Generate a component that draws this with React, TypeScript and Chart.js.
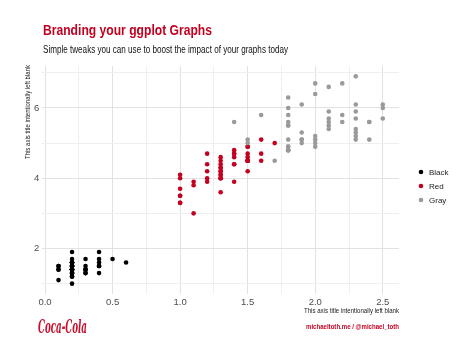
import { useEffect, useRef } from "react";
import { Chart, registerables } from "chart.js";

Chart.register(...registerables);

// Iris petal data: x = petal width, y = petal length
const seriesLabels = ["Black", "Red", "Gray"];
const seriesColors = ["#000000", "#c40020", "#9a9a9a"];

const blackX = [0.2, 0.2, 0.2, 0.2, 0.2, 0.4, 0.3, 0.2, 0.2, 0.1, 0.2, 0.2, 0.1, 0.1, 0.2, 0.4, 0.4, 0.3, 0.3, 0.3, 0.2, 0.4, 0.2, 0.5, 0.2, 0.2, 0.4, 0.2, 0.2, 0.2, 0.2, 0.4, 0.1, 0.2, 0.2, 0.2, 0.2, 0.1, 0.2, 0.2, 0.3, 0.3, 0.2, 0.6, 0.4, 0.3, 0.2, 0.2, 0.2, 0.2];
const blackY = [1.4, 1.4, 1.3, 1.5, 1.4, 1.7, 1.4, 1.5, 1.4, 1.5, 1.5, 1.6, 1.4, 1.1, 1.2, 1.5, 1.3, 1.4, 1.7, 1.5, 1.7, 1.5, 1.0, 1.7, 1.9, 1.6, 1.6, 1.5, 1.4, 1.6, 1.6, 1.5, 1.5, 1.4, 1.5, 1.2, 1.3, 1.4, 1.3, 1.5, 1.3, 1.3, 1.3, 1.6, 1.9, 1.4, 1.6, 1.4, 1.5, 1.4];

const redX = [1.4, 1.5, 1.5, 1.3, 1.5, 1.3, 1.6, 1.0, 1.3, 1.4, 1.0, 1.5, 1.0, 1.4, 1.3, 1.4, 1.5, 1.0, 1.5, 1.1, 1.8, 1.3, 1.5, 1.2, 1.3, 1.4, 1.4, 1.7, 1.5, 1.0, 1.1, 1.0, 1.2, 1.6, 1.5, 1.6, 1.5, 1.3, 1.3, 1.3, 1.2, 1.4, 1.2, 1.0, 1.3, 1.2, 1.3, 1.3, 1.1, 1.3];
const redY = [4.7, 4.5, 4.9, 4.0, 4.6, 4.5, 4.7, 3.3, 4.6, 3.9, 3.5, 4.2, 4.0, 4.7, 3.6, 4.4, 4.5, 4.1, 4.5, 3.9, 4.8, 4.0, 4.9, 4.7, 4.3, 4.4, 4.8, 5.0, 4.5, 3.5, 3.8, 3.7, 3.9, 5.1, 4.5, 4.5, 4.7, 4.4, 4.1, 4.0, 4.4, 4.6, 4.0, 3.3, 4.2, 4.2, 4.2, 4.3, 3.0, 4.1];

const grayX = [2.5, 1.9, 2.1, 1.8, 2.2, 2.1, 1.7, 1.8, 1.8, 2.5, 2.0, 1.9, 2.1, 2.0, 2.4, 2.3, 1.8, 2.2, 2.3, 1.5, 2.3, 2.0, 2.0, 1.8, 2.1, 1.8, 1.8, 1.8, 2.1, 1.6, 1.9, 2.0, 2.2, 1.5, 1.4, 2.3, 2.4, 1.8, 1.8, 2.1, 2.4, 2.3, 1.9, 2.3, 2.5, 2.3, 1.9, 2.0, 2.3, 1.8];
const grayY = [6.0, 5.1, 5.9, 5.6, 5.8, 6.6, 4.5, 6.3, 5.8, 6.1, 5.1, 5.3, 5.5, 5.0, 5.1, 5.3, 5.5, 6.7, 6.9, 5.0, 5.7, 4.9, 6.7, 4.9, 5.7, 6.0, 4.8, 4.9, 5.6, 5.8, 6.1, 6.4, 5.6, 5.1, 5.6, 6.1, 5.6, 5.5, 4.8, 5.4, 5.6, 5.1, 5.1, 5.9, 5.7, 5.2, 5.0, 5.2, 5.4, 5.1];

const xLabelTicks = [0, 0.5, 1, 1.5, 2, 2.5];
const yLabelTicks = [2, 4, 6];

const TITLE = "Branding your ggplot Graphs";
const SUBTITLE = "Simple tweaks you can use to boost the impact of your graphs today";
const AXIS_TITLE = "This axis title intentionally left blank";
const CAPTION = "michaeltoth.me / @michael_toth";
const LOGO = "Coca-Cola";

const FONT = "'Liberation Sans Narrow', 'Liberation Sans', Arial, sans-serif";
const RED = "#c40020";

const toPoints = (xs: number[], ys: number[]) => xs.map((x, i) => ({ x, y: ys[i] }));

function fitText(ctx: CanvasRenderingContext2D, text: string, x: number, y: number, width: number, align: "left" | "right") {
  const w = ctx.measureText(text).width;
  const s = width / w;
  ctx.save();
  ctx.translate(x, y);
  ctx.scale(s, 1);
  ctx.textAlign = align;
  ctx.fillText(text, 0, 0);
  ctx.restore();
}

const decor = {
  id: "decor",
  afterDraw(chart: any) {
    const ctx: CanvasRenderingContext2D = chart.ctx;
    ctx.save();
    ctx.textBaseline = "alphabetic";
    // title + subtitle
    ctx.fillStyle = RED;
    ctx.font = `bold 14.5px ${FONT}`;
    fitText(ctx, TITLE, 43, 35, 169, "left");
    ctx.fillStyle = "#111111";
    ctx.font = `10px ${FONT}`;
    fitText(ctx, SUBTITLE, 43, 53, 245, "left");
    // y axis title
    ctx.fillStyle = "#222222";
    ctx.font = `7.5px ${FONT}`;
    ctx.save();
    ctx.translate(30, 65);
    ctx.rotate(-Math.PI / 2);
    fitText(ctx, AXIS_TITLE, 0, 0, 94, "right");
    ctx.restore();
    // x axis title
    fitText(ctx, AXIS_TITLE, 399, 313, 95, "right");
    // caption
    ctx.fillStyle = RED;
    ctx.font = `bold 7.5px ${FONT}`;
    fitText(ctx, CAPTION, 399, 328.5, 93, "right");
    // logo
    ctx.fillStyle = "#c8102e";
    ctx.font = `italic bold 18px 'DejaVu Serif', serif`;
    fitText(ctx, LOGO, 38, 333, 49, "left");
    // legend
    chart.data.datasets.forEach((ds: any, i: number) => {
      const y = 172 + i * 14;
      ctx.beginPath();
      ctx.fillStyle = ds.backgroundColor;
      ctx.arc(421, y, 2.3, 0, Math.PI * 2);
      ctx.fill();
      ctx.fillStyle = "#222222";
      ctx.font = `8px ${FONT}`;
      ctx.textBaseline = "middle";
      ctx.textAlign = "left";
      ctx.fillText(ds.label, 429, y + 0.5);
    });
    ctx.restore();
  },
};

export default function App() {
  const ref = useRef<HTMLCanvasElement | null>(null);

  useEffect(() => {
    document.body.style.margin = "0";
    const canvas = ref.current!;
    const datasets = [
      { label: seriesLabels[0], data: toPoints(blackX, blackY), backgroundColor: seriesColors[0], order: 2 },
      { label: seriesLabels[1], data: toPoints(redX, redY), backgroundColor: seriesColors[1], order: 1 },
      { label: seriesLabels[2], data: toPoints(grayX, grayY), backgroundColor: seriesColors[2], order: 0 },
    ].map((d) => ({ ...d, pointRadius: 2.3, borderWidth: 0, pointHoverRadius: 2.3 }));

    const gridColor = (major: number[]) => (c: any) =>
      major.some((m) => Math.abs(m - c.tick.value) < 1e-6) ? "#e2e2e2" : "#efefef";

    const chart = new Chart(canvas, {
      type: "scatter",
      data: { datasets },
      plugins: [decor],
      options: {
        animation: false,
        responsive: false,
        events: [],
        layout: { padding: { left: 0, right: 75, top: 66, bottom: 0 } },
        plugins: { legend: { display: false }, tooltip: { enabled: false } },
        scales: {
          x: {
            type: "linear",
            min: -0.02,
            max: 2.62,
            border: { display: false },
            grid: { color: gridColor(xLabelTicks), drawTicks: false, lineWidth: 1 },
            ticks: {
              stepSize: 0.25,
              includeBounds: false,
              padding: 3,
              color: "#4d4d4d",
              font: { family: FONT, size: 9.5 },
              maxRotation: 0,
              autoSkip: false,
              callback: (v: any) => (xLabelTicks.some((m) => Math.abs(m - v) < 1e-6) ? Number(v).toFixed(1) : ""),
            },
            afterFit: (s: any) => {
              s.height = 61;
            },
          },
          y: {
            type: "linear",
            min: 0.705,
            max: 7.195,
            border: { display: false },
            grid: { color: gridColor(yLabelTicks), drawTicks: false, lineWidth: 1 },
            ticks: {
              stepSize: 1,
              includeBounds: false,
              padding: 3,
              color: "#4d4d4d",
              font: { family: FONT, size: 9.5 },
              autoSkip: false,
              callback: (v: any) => (yLabelTicks.some((m) => Math.abs(m - v) < 1e-6) ? String(v) : ""),
            },
            afterFit: (s: any) => {
              s.width = 42.3;
            },
          },
        },
      },
    } as any);
    return () => chart.destroy();
  }, []);

  return <canvas ref={ref} width={474} height={355} style={{ display: "block", width: 474, height: 355 }} />;
}
